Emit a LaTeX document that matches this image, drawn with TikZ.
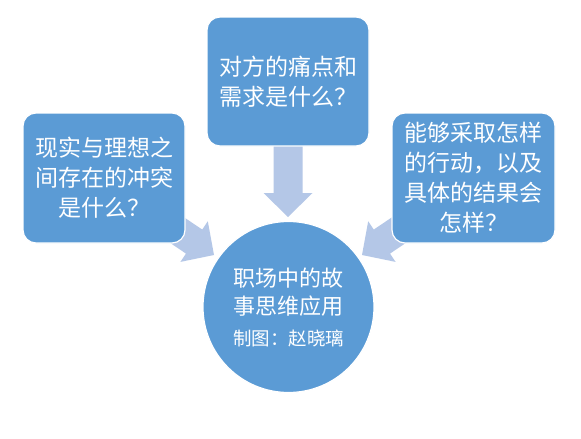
\documentclass[tikz,border=0pt]{standalone}
\usepackage{fontspec}
\setmainfont{Noto Sans CJK SC}
\definecolor{boxblue}{HTML}{5B9BD5}
\definecolor{arrowblue}{HTML}{B4C7E7}
\begin{document}
\begin{tikzpicture}[x=1pt,y=1pt,
  qbox/.style={draw=white,line width=1.2pt,fill=boxblue,rounded corners=13pt,
    inner sep=0pt,text=white,align=center,font=\fontsize{23}{30}\selectfont},
  hub/.style={circle,draw=white,line width=1.2pt,fill=boxblue,inner sep=0pt,
    minimum size=171pt,text=white,align=center,font=\fontsize{22}{28}\selectfont},
  blockarrow/.style={fill=arrowblue,draw=none}]
\useasboundingbox (0,0) rectangle (581,-439);
\fill[white] (0,0) rectangle (581,-439);
% block arrows (drawn first, boxes on top)
\newcommand{\blockarr}[3]{%
  \begin{scope}[shift={(#1,#2)},rotate=#3]
    \fill[arrowblue] (0,0) -- (-24,24.5) -- (-24,14.5) -- (-75,14.5)
      -- (-75,-14.5) -- (-24,-14.5) -- (-24,-24.5) -- cycle;
  \end{scope}}
\blockarr{288}{-217}{-90}
\blockarr{214}{-255}{-34}
\blockarr{362}{-255}{-146}
% boxes
\node[qbox,minimum width=162pt,minimum height=129pt] (top) at (288,-81.5)
  {对方的痛点和\\需求是什么？};
\node[qbox,minimum width=162pt,minimum height=130pt] (left) at (104,-178)
  {现实与理想之\\间存在的冲突\\是什么？};
\node[qbox,minimum width=163pt,minimum height=130pt] (right) at (473.5,-178)
  {能够采取怎样\\的行动，以及\\具体的结果会\\怎样？};
\node[hub] (hub) at (288.5,-307)
  {职场中的故\\事思维应用\\[3pt]{\fontsize{18.5}{22}\selectfont 制图：赵晓璃}};
\end{tikzpicture}
\end{document}
